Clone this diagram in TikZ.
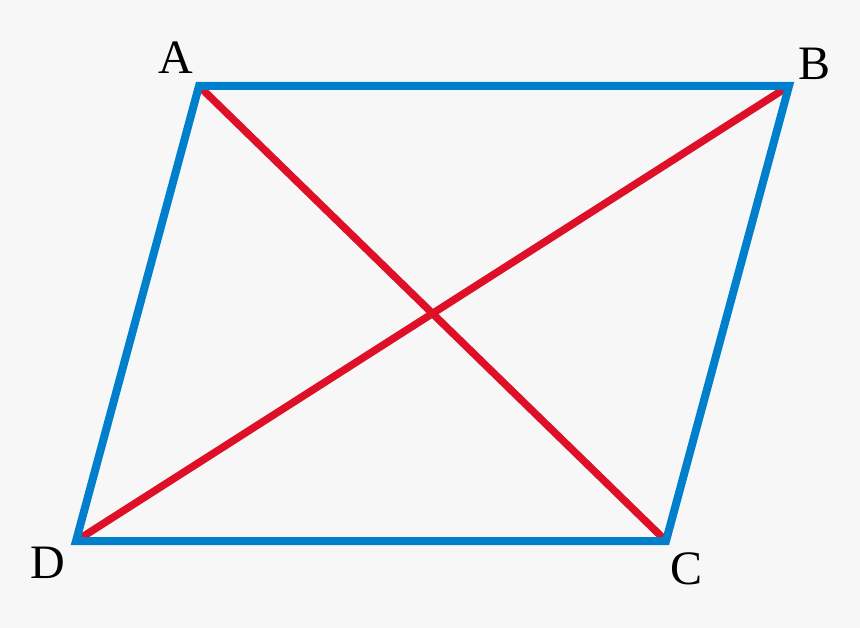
\documentclass[tikz,border=0pt]{standalone}
\usepackage{fontspec}
\setmainfont{Liberation Serif}
\definecolor{sideblue}{RGB}{0,128,204}
\definecolor{diagred}{RGB}{222,16,40}
\definecolor{paper}{RGB}{247,247,247}

\begin{document}
\begin{tikzpicture}[x=1pt, y=-1pt,
    side/.style={draw=sideblue, line width=8pt, line join=miter},
    diag/.style={draw=diagred, line width=7.5pt},
    vlabel/.style={inner sep=0pt, font=\fontsize{48}{50}\selectfont}]
    \fill[paper] (0,0) rectangle (860,628);
    \useasboundingbox (0,0) rectangle (860,628);
    % corners of the parallelogram
    \coordinate (A) at (199,86);
    \coordinate (B) at (789,86);
    \coordinate (C) at (666,541);
    \coordinate (D) at (76,541);
    % diagonals
    \draw[diag] (A) -- (C);
    \draw[diag] (B) -- (D);
    % sides
    \draw[side] (A) -- (B) -- (C) -- (D) -- cycle;
    % labels
    \node[vlabel] (labA) at (176,58) {A};
    \node[vlabel] (labB) at (815,64) {B};
    \node[vlabel] (labC) at (687,569) {C};
    \node[vlabel] (labD) at (48,563) {D};
\end{tikzpicture}
\end{document}
